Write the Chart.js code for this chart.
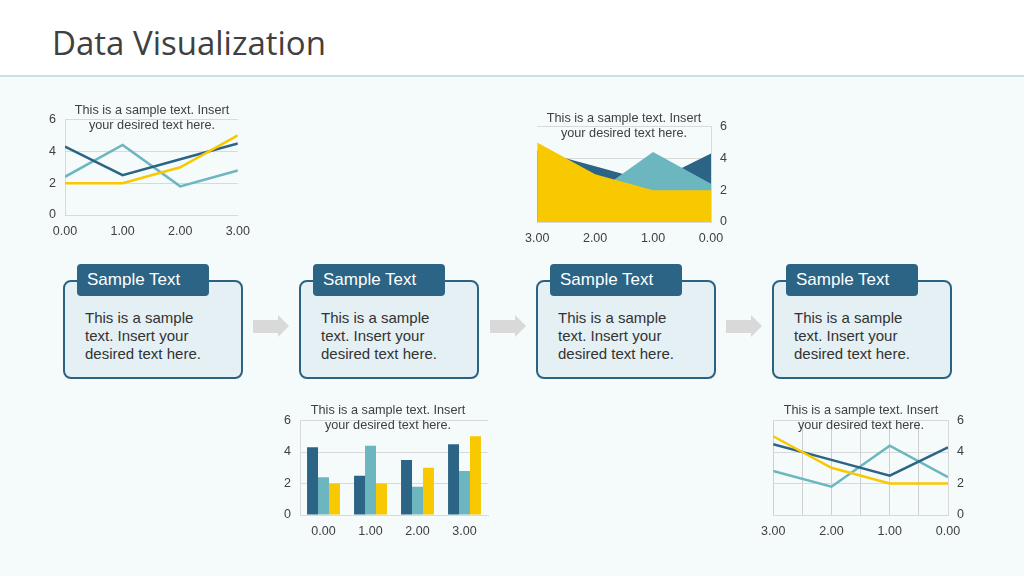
<!DOCTYPE html>
<html lang="en">
<head>
    <meta charset="UTF-8">
    <title>Data Visualization</title>
    <style>
        body {
            margin: 0;
            width: 1024px;
            height: 576px;
            overflow: hidden;
            font-family: 'Liberation Sans', Arial, sans-serif;
            background-color: #f5fafb;
        }
        .slide {
            position: relative;
            width: 1024px;
            height: 576px;
        }
        .header {
            position: absolute;
            left: 0; top: 0;
            width: 1024px;
            height: 75px;
            background-color: #ffffff;
            border-bottom: 2px solid #cbe0e4;
        }
        .header h1 {
            position: absolute;
            left: 52px;
            top: 22px;
            margin: 0;
            font-family: 'Open Sans', sans-serif;
            font-weight: normal;
            font-size: 33px;
            line-height: 42px;
            color: #404040;
        }
        .chart-wrap {
            position: absolute;
        }
        .chart-title {
            position: absolute;
            width: 200px;
            text-align: center;
            font-size: 12.7px;
            line-height: 15px;
            color: #404040;
            pointer-events: none;
        }
        .box {
            position: absolute;
            top: 280px;
            width: 176px;
            height: 95px;
            background-color: #e4f0f3;
            border: 2px solid #2b6282;
            border-radius: 8px;
        }
        .box .tab {
            position: absolute;
            left: 12px;
            top: -18px;
            width: 122px;
            height: 32px;
            padding-left: 10px;
            background-color: #2b6485;
            border-radius: 4px;
            color: #ffffff;
            font-size: 17px;
            line-height: 32px;
        }
        .box p {
            position: absolute;
            left: 20px;
            top: 27px;
            margin: 0;
            font-size: 15px;
            line-height: 18px;
            color: #333333;
        }
        .arrow {
            position: absolute;
            top: 315px;
            width: 36px;
            height: 23px;
        }
        .arrow .shaft {
            position: absolute;
            left: 0; top: 5px;
            width: 25px; height: 13px;
            background-color: #d9d9d9;
        }
        .arrow .head {
            position: absolute;
            left: 25px; top: 0;
            width: 0; height: 0;
            border-top: 11.5px solid transparent;
            border-bottom: 11.5px solid transparent;
            border-left: 11px solid #d9d9d9;
        }
    </style>
</head>
<body>
<div class="slide">
    <div class="header"><h1>Data Visualization</h1></div>

    <!-- top left: line chart -->
    <div class="chart-wrap" style="left:40px; top:103px; width:219px; height:137px;">
        <canvas id="line-chart"></canvas>
    </div>
    <div class="chart-title" style="left:52px; top:103px;">This is a sample text. Insert<br>your desired text here.</div>

    <!-- top right: area chart -->
    <div class="chart-wrap" style="left:516px; top:110px; width:220px; height:137px;">
        <canvas id="area-chart"></canvas>
    </div>
    <div class="chart-title" style="left:524px; top:111px;">This is a sample text. Insert<br>your desired text here.</div>

    <!-- boxes -->
    <div class="box" style="left:63px;"><div class="tab">Sample Text</div><p>This is a sample<br>text. Insert your<br>desired text here.</p></div>
    <div class="arrow" style="left:253px;"><div class="shaft"></div><div class="head"></div></div>
    <div class="box" style="left:299px;"><div class="tab">Sample Text</div><p>This is a sample<br>text. Insert your<br>desired text here.</p></div>
    <div class="arrow" style="left:490px;"><div class="shaft"></div><div class="head"></div></div>
    <div class="box" style="left:536px;"><div class="tab">Sample Text</div><p>This is a sample<br>text. Insert your<br>desired text here.</p></div>
    <div class="arrow" style="left:726px;"><div class="shaft"></div><div class="head"></div></div>
    <div class="box" style="left:772px;"><div class="tab">Sample Text</div><p>This is a sample<br>text. Insert your<br>desired text here.</p></div>

    <!-- bottom: bar chart -->
    <div class="chart-wrap" style="left:275px; top:404px; width:218px; height:136px;">
        <canvas id="bar-chart"></canvas>
    </div>
    <div class="chart-title" style="left:288px; top:403px;">This is a sample text. Insert<br>your desired text here.</div>

    <!-- bottom right: reversed line chart -->
    <div class="chart-wrap" style="left:752px; top:404px; width:221px; height:136px;">
        <canvas id="line-chart-rev"></canvas>
    </div>
    <div class="chart-title" style="left:761px; top:403px;">This is a sample text. Insert<br>your desired text here.</div>
</div>

<script src="https://cdn.jsdelivr.net/npm/chart.js"></script>
<script>
    // data
    const xValues = [0, 1, 2, 3];
    const xLabels = ['0.00', '1.00', '2.00', '3.00'];
    const series1 = [4.3, 2.5, 3.5, 4.5];
    const series2 = [2.4, 4.4, 1.8, 2.8];
    const series3 = [2.0, 2.0, 3.0, 5.0];
    const yTicks = [0, 2, 4, 6];

    const DARK = '#2b6485';
    const TEAL = '#6cb6c0';
    const YELLOW = '#f8c800';
    const GRID = '#d9d9d9';
    const TICK = '#404040';

    Chart.defaults.font.family = "'Liberation Sans', Arial, sans-serif";
    Chart.defaults.font.size = 12.5;
    Chart.defaults.color = TICK;
    Chart.defaults.animation = false;

    function pts(ys) {
        return xValues.map((x, i) => ({ x: x, y: ys[i] }));
    }

    function yScale(position) {
        return {
            position: position,
            min: 0, max: 6,
            afterBuildTicks: (s) => { s.ticks = yTicks.map(v => ({ value: v })); },
            afterFit: (s) => { s.width = 25; },
            grid: { color: GRID, drawTicks: false },
            border: { display: true, color: GRID },
            ticks: { padding: 9 }
        };
    }

    function xLinear(reverse, gridOn, step) {
        return {
            type: 'linear',
            min: 0, max: 3,
            reverse: reverse,
            afterFit: (s) => { s.height = 25; },
            grid: { display: gridOn, color: '#cfcfcf', drawTicks: false },
            border: { display: true, color: GRID },
            ticks: {
                stepSize: step,
                padding: 9,
                maxRotation: 0,
                minRotation: 0,
                autoSkip: false,
                callback: (v) => Number.isInteger(v) ? xLabels[v] : ''
            }
        };
    }

    const noLegend = { legend: { display: false }, tooltip: { enabled: false } };

    function pad(left, right) {
        return { autoPadding: false, padding: { top: 10, right: right, left: left, bottom: 0 } };
    }

    // top left line chart
    new Chart(document.getElementById('line-chart'), {
        type: 'line',
        data: {
            datasets: [
                { data: pts(series3), borderColor: YELLOW },
                { data: pts(series1), borderColor: DARK },
                { data: pts(series2), borderColor: TEAL }
            ]
        },
        options: {
            responsive: true,
            maintainAspectRatio: false,
            layout: pad(0, 15),
            elements: { point: { radius: 0 }, line: { borderWidth: 2.5, tension: 0 } },
            plugins: noLegend,
            scales: { x: xLinear(false, false, 1), y: yScale('left') }
        }
    });

    // top right area chart
    new Chart(document.getElementById('area-chart'), {
        type: 'line',
        data: {
            datasets: [
                { data: pts(series3), backgroundColor: YELLOW, fill: 'origin' },
                { data: pts(series2), backgroundColor: TEAL, fill: 'origin' },
                { data: pts(series1), backgroundColor: DARK, fill: 'origin' }
            ]
        },
        options: {
            responsive: true,
            maintainAspectRatio: false,
            layout: pad(15, 0),
            elements: { point: { radius: 0 }, line: { borderWidth: 0, tension: 0 } },
            plugins: noLegend,
            scales: { x: xLinear(true, false, 1), y: yScale('right') }
        }
    });

    // bottom bar chart
    new Chart(document.getElementById('bar-chart'), {
        type: 'bar',
        data: {
            labels: xLabels,
            datasets: [
                { data: series1, backgroundColor: DARK },
                { data: series2, backgroundColor: TEAL },
                { data: series3, backgroundColor: YELLOW }
            ]
        },
        options: {
            responsive: true,
            maintainAspectRatio: false,
            layout: pad(0, 5),
            datasets: { bar: { categoryPercentage: 0.7, barPercentage: 1.0 } },
            plugins: noLegend,
            scales: {
                x: {
                    afterFit: (s) => { s.height = 25; },
                    grid: { display: false, drawTicks: false },
                    border: { display: true, color: GRID },
                    ticks: { padding: 9, maxRotation: 0 }
                },
                y: yScale('left')
            }
        }
    });

    // bottom right reversed line chart
    new Chart(document.getElementById('line-chart-rev'), {
        type: 'line',
        data: {
            datasets: [
                { data: pts(series3), borderColor: YELLOW },
                { data: pts(series1), borderColor: DARK },
                { data: pts(series2), borderColor: TEAL }
            ]
        },
        options: {
            responsive: true,
            maintainAspectRatio: false,
            layout: pad(15, 0),
            elements: { point: { radius: 0 }, line: { borderWidth: 2.5, tension: 0 } },
            plugins: noLegend,
            scales: { x: xLinear(true, true, 0.5), y: yScale('right') }
        }
    });
</script>
</body>
</html>
